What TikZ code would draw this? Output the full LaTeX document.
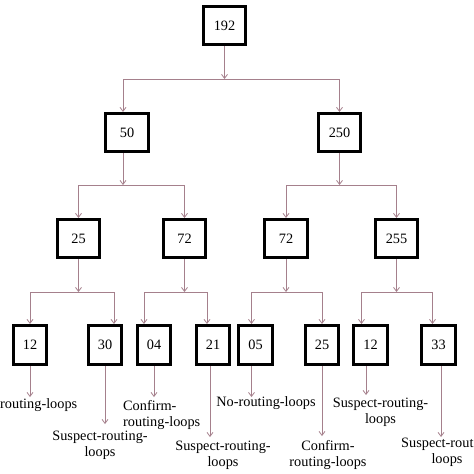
\documentclass[tikz,border=0pt]{standalone}
\usepackage{fontspec}
\setmainfont{Liberation Serif}
\usetikzlibrary{arrows.meta}
\definecolor{connc}{RGB}{165,128,140}
\begin{document}
\begin{tikzpicture}[x=1pt,y=-1pt,
  box/.style={draw=black,line width=2.6pt,fill=white,minimum width=42.5pt,minimum height=38.5pt,inner sep=0pt,font=\fontsize{14.3}{16}\selectfont},
  leafbox/.style={box,minimum width=33.5pt,minimum height=39.5pt},
  conn/.style={draw=connc,line width=0.8pt,-{Straight Barb[length=4pt,width=6pt]}},
  lbl/.style={font=\fontsize{14.3}{16}\selectfont,inner sep=0pt,align=center},
]
\useasboundingbox (0,0) rectangle (474,474);
\fill[white] (0,0) rectangle (474,474);
% level 1-3
\node[box] (n192) at (224.5,25.5) {192};
\node[box] (n50) at (127,132.5) {50};
\node[box] (n250) at (339.5,132.5) {250};
\node[box] (n25) at (78.5,238.5) {25};
\node[box] (n72a) at (184.5,238.5) {72};
\node[box] (n72b) at (286,238.5) {72};
\node[box] (n255) at (396.5,238.5) {255};
% level 4
\node[leafbox] (n12a) at (30,345) {12};
\node[leafbox] (n30) at (105,345) {30};
\node[leafbox] (n04) at (154,345) {04};
\node[leafbox] (n21) at (213,345) {21};
\node[leafbox] (n05) at (255.5,345) {05};
\node[leafbox] (n25b) at (322,345) {25};
\node[leafbox] (n12b) at (370.5,345) {12};
\node[leafbox] (n33) at (438.5,345) {33};
% junctions
\coordinate (j0) at (224.5,79);
\coordinate (j1) at (123,185);
\coordinate (j2) at (339.5,185);
\coordinate (j3) at (78.5,292);
\coordinate (j4) at (184.5,292);
\coordinate (j5) at (286,292);
\coordinate (j6) at (396.5,292);
% leaf arrow ends
\coordinate (e12a) at (30,397);
\coordinate (e30) at (105,424);
\coordinate (e04) at (154,397);
\coordinate (e21) at (210,437);
\coordinate (e05) at (251.5,397);
\coordinate (e25) at (322,436);
\coordinate (e12b) at (366,395);
\coordinate (e33) at (441,437);
% connectors
\draw[conn] (n192.south) -- (j0);
\draw[conn] (j0) -| ([xshift=-4pt]n50.north);
\draw[conn] (j0) -| (n250.north);
\draw[conn] ([xshift=-4pt]n50.south) -- (j1);
\draw[conn] (j1) -| (n25.north);
\draw[conn] (j1) -| (n72a.north);
\draw[conn] (n250.south) -- (j2);
\draw[conn] (j2) -| (n72b.north);
\draw[conn] (j2) -| (n255.north);
\draw[conn] (n25.south) -- (j3);
\draw[conn] (j3) -| (n12a.north);
\draw[conn] (j3) -| ([xshift=9pt]n30.north);
\draw[conn] (n72a.south) -- (j4);
\draw[conn] (j4) -| ([xshift=-10pt]n04.north);
\draw[conn] (j4) -| ([xshift=-6pt]n21.north);
\draw[conn] (n72b.south) -- (j5);
\draw[conn] (j5) -| ([xshift=-4pt]n05.north);
\draw[conn] (j5) -| (n25b.north);
\draw[conn] (n255.south) -- (j6);
\draw[conn] (j6) -| ([xshift=-9pt]n12b.north);
\draw[conn] (j6) -| ([xshift=-6pt]n33.north);
% leaf outputs
\draw[conn] (n12a.south) -- (e12a);
\draw[conn] (n30.south) -- (e30);
\draw[conn] (n04.south) -- (e04);
\draw[conn] ([xshift=-3pt]n21.south) -- (e21);
\draw[conn] ([xshift=-4pt]n05.south) -- (e05);
\draw[conn] (n25b.south) -- (e25);
\draw[conn] ([xshift=-4.5pt]n12b.south) -- (e12b);
\draw[conn] ([xshift=2.5pt]n33.south) -- (e33);
% labels
\node[lbl,anchor=west] (t12a) at (0,405) {routing-loops};
\node[lbl] (t30) at (100,445) {Suspect-routing-\\loops};
\node[lbl,align=left,anchor=west] (t04) at (123,415) {Confirm-\\routing-loops};
\node[lbl] (t21) at (223,455.5) {Suspect-routing-\\loops};
\node[lbl] (t05) at (266,403) {No-routing-loops};
\node[lbl] (t25) at (328,455.5) {Confirm-\\routing-loops};
\node[lbl] (t12b) at (380.5,412.5) {Suspect-routing-\\loops};
\node[lbl,anchor=west] (t33a) at (401,444) {Suspect-rout};
\node[lbl] (t33b) at (447,460) {loops};
\end{tikzpicture}
\end{document}
